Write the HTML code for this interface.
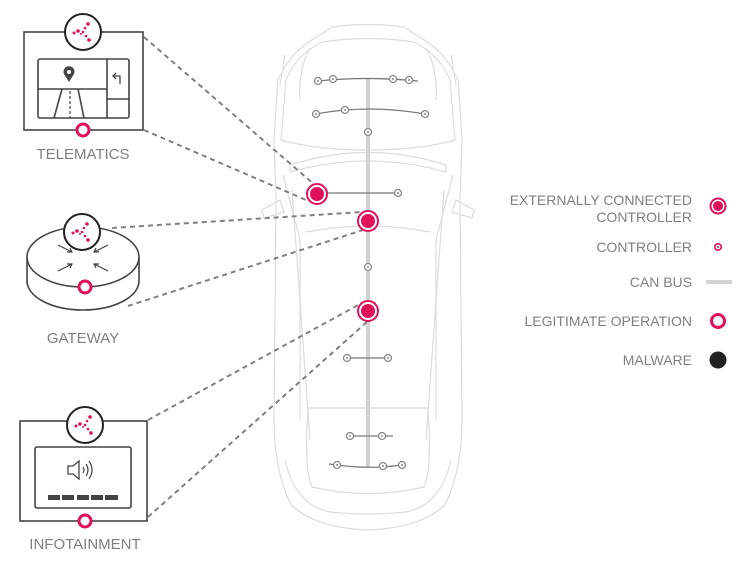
<!DOCTYPE html>
<html><head><meta charset="utf-8"><style>
html,body{margin:0;padding:0;background:#fff;}
svg{display:block;font-family:"Liberation Sans",sans-serif;}
</style></head><body>
<svg width="749" height="563" viewBox="0 0 749 563" xmlns="http://www.w3.org/2000/svg">
<g fill="none" stroke="#dcdcdc" stroke-width="1.2">
<path d="M332 27 Q368 22 404 27 L416 35 Q445 50 458 80 L462 140 L460 200 L462 420 Q462 470 445 505 Q420 528 368 530 Q316 528 291 505 Q274 470 274 420 L276 200 L274 140 L278 80 Q291 50 320 35 Z"/>
<path d="M322 42 Q368 35 414 42 Q440 55 450 80 L455 140 Q420 150 368 150 Q316 150 281 140 L286 80 Q296 55 322 42Z"/>
<path d="M290 165 Q368 140 446 165 L446 172 Q368 150 290 172 Z"/>
<path d="M283 175 L300 240 L300 420 M453 175 L436 240 L436 420"/>
<path d="M292 190 L310 440 M444 190 L426 440"/>
<path d="M306 232 Q368 220 430 232"/>
<path d="M308 408 L428 408 Q432 470 424 487 Q368 500 312 487 Q304 470 308 408 Z"/>
<path d="M285 460 Q295 505 330 512 Q368 516 406 512 Q441 505 451 460"/>
<path d="M262 210 L280 200 L284 212 L264 218 Z M474 210 L456 200 L452 212 L472 218 Z"/>
<path d="M280 85 L285 55 M456 85 L451 55"/>
<path d="M300 100 Q298 70 310 48 M436 100 Q438 70 426 48"/>
</g>
<line x1="368" y1="78" x2="368" y2="468" stroke="#d2d2d2" stroke-width="4"/>
<g fill="none" stroke="#777" stroke-width="1.3">
<path d="M318 81 Q368 76 418 81"/>
<path d="M316 114 Q368 104 425 114"/>
<path d="M320 193 L398 193"/>
<path d="M347 358 L388 358"/>
<path d="M350 436 L393 436"/>
<path d="M329 464 Q368 470 402 465"/>
</g>
<g fill="#fff" stroke="#888" stroke-width="1.3">
<circle cx="318" cy="81" r="3.5"/><circle cx="333" cy="79" r="3.5"/><circle cx="393" cy="79" r="3.5"/><circle cx="409" cy="80" r="3.5"/>
<circle cx="316" cy="114" r="3.5"/><circle cx="345" cy="110" r="3.5"/><circle cx="425" cy="114" r="3.5"/>
<circle cx="368" cy="132" r="3.5"/><circle cx="398" cy="193" r="3.5"/><circle cx="368" cy="267" r="3.5"/>
<circle cx="347" cy="358" r="3.5"/><circle cx="388" cy="358" r="3.5"/>
<circle cx="350" cy="436" r="3.5"/><circle cx="382" cy="436" r="3.5"/>
<circle cx="337" cy="465" r="3.5"/><circle cx="383" cy="466" r="3.5"/><circle cx="402" cy="465" r="3.5"/>
</g>
<g fill="#888"><circle cx="318" cy="81" r="1"/><circle cx="333" cy="79" r="1"/><circle cx="393" cy="79" r="1"/><circle cx="409" cy="80" r="1"/><circle cx="316" cy="114" r="1"/><circle cx="345" cy="110" r="1"/><circle cx="425" cy="114" r="1"/><circle cx="368" cy="132" r="1"/><circle cx="398" cy="193" r="1"/><circle cx="368" cy="267" r="1"/><circle cx="347" cy="358" r="1"/><circle cx="388" cy="358" r="1"/><circle cx="350" cy="436" r="1"/><circle cx="382" cy="436" r="1"/><circle cx="337" cy="465" r="1"/><circle cx="383" cy="466" r="1"/><circle cx="402" cy="465" r="1"/></g>
<g stroke="#808080" stroke-width="2" stroke-dasharray="5,4" fill="none">
<line x1="144" y1="37" x2="316" y2="186"/>
<line x1="144" y1="130" x2="306" y2="200"/>
<line x1="112" y1="228" x2="362" y2="212"/>
<line x1="128" y1="306" x2="366" y2="229"/>
<line x1="148" y1="420" x2="360" y2="304"/>
<line x1="148" y1="517" x2="368" y2="321"/>
</g>
<g fill="#e0105a" stroke="#e0105a">
<circle cx="317" cy="194" r="10" fill="#fff" stroke-width="2"/><circle cx="317" cy="194" r="7" stroke="none"/>
<circle cx="368" cy="221" r="10" fill="#fff" stroke-width="2"/><circle cx="368" cy="221" r="7" stroke="none"/>
<circle cx="368" cy="311" r="10" fill="#fff" stroke-width="2"/><circle cx="368" cy="311" r="7" stroke="none"/>
</g>
<g fill="none" stroke="#444" stroke-width="1.6">
<rect x="24" y="32" width="119" height="98"/>
<rect x="38" y="59" width="91" height="59" rx="2"/>
<line x1="38" y1="89" x2="107" y2="89"/><line x1="107" y1="59" x2="107" y2="118"/><line x1="107" y1="99" x2="129" y2="99"/>
<line x1="62" y1="89" x2="54" y2="118"/><line x1="78" y1="89" x2="84" y2="118"/>
<line x1="70" y1="91" x2="70" y2="118" stroke-dasharray="3,2" stroke-width="1.2"/>
<path d="M120 84 L120 76 L113 76 M116 73 L113 76 L116 79" stroke-width="1.3"/>
</g>
<path d="M69 82 L64 74 A5.5 5.5 0 1 1 74 74 Z" fill="#444"/><circle cx="69" cy="72" r="2" fill="#fff"/>
<g fill="none" stroke="#444" stroke-width="1.6">
<path d="M27 257 L27 281 A56 29 0 0 0 139 281 L139 257"/>
<ellipse cx="83" cy="257" rx="56" ry="30" fill="#fff"/>
<path d="M58 245 L72 252 M67 252 L72 252 L70 248" stroke-width="1.2"/>
<path d="M108 245 L94 252 M99 252 L94 252 L96 248" stroke-width="1.2"/>
<path d="M58 271 L72 264 M67 264 L72 264 L70 268" stroke-width="1.2"/>
<path d="M108 271 L94 264 M99 264 L94 264 L96 268" stroke-width="1.2"/>
</g>
<g fill="none" stroke="#444" stroke-width="1.6">
<rect x="20" y="421" width="127" height="100"/>
<rect x="35" y="447" width="96" height="61" rx="2"/>
<path d="M68 466 L73 466 L79 461 L79 479 L73 474 L68 474 Z" stroke-width="1.3"/>
<path d="M83 467 Q85 470 83 473 M86 464 Q90 470 86 476 M89 461 Q95 470 89 479" stroke-width="1.2"/>
</g>
<g fill="#444"><rect x="48" y="495" width="12" height="5"/><rect x="62" y="495" width="12" height="5"/><rect x="77" y="495" width="12" height="5"/><rect x="91" y="495" width="12" height="5"/><rect x="105" y="495" width="13" height="5"/></g>
<g id="ic">
<circle cx="83" cy="32" r="18" fill="#fff" stroke="#222" stroke-width="2"/>
<g fill="#e0105a"><circle cx="88" cy="24" r="1.8"/><circle cx="85" cy="28" r="1.3"/><circle cx="83" cy="32" r="1.3"/><circle cx="78" cy="31" r="1.8"/><circle cx="74" cy="33" r="1.5"/><circle cx="86" cy="36" r="1.3"/><circle cx="89" cy="40" r="1.8"/><circle cx="81" cy="34" r="1"/></g>
</g>
<use href="#ic" transform="translate(-1,200)"/>
<use href="#ic" transform="translate(2,393)"/>
<g fill="#fff" stroke="#e0105a" stroke-width="3">
<circle cx="83" cy="130" r="6"/><circle cx="85" cy="287" r="6"/><circle cx="85" cy="521" r="6"/>
</g>
<g fill="#808080" font-size="15" text-anchor="middle">
<text x="83" y="159">TELEMATICS</text>
<text x="83" y="343">GATEWAY</text>
<text x="85" y="549">INFOTAINMENT</text>
</g>
<g fill="#808080" font-size="14" text-anchor="end">
<text x="692" y="205">EXTERNALLY CONNECTED</text>
<text x="692" y="222">CONTROLLER</text>
<text x="692" y="252">CONTROLLER</text>
<text x="692" y="287">CAN BUS</text>
<text x="692" y="326">LEGITIMATE OPERATION</text>
<text x="692" y="365">MALWARE</text>
</g>
<circle cx="718" cy="206" r="7.5" fill="#fff" stroke="#e0105a" stroke-width="2"/><circle cx="718" cy="206" r="5" fill="#e0105a"/>
<circle cx="718" cy="247" r="3.2" fill="#fff" stroke="#e0105a" stroke-width="1.6"/><circle cx="718" cy="247" r="1" fill="#e0105a"/>
<rect x="706" y="280" width="26" height="4" fill="#d2d2d2"/>
<circle cx="718" cy="321" r="6.5" fill="#fff" stroke="#e0105a" stroke-width="3"/>
<circle cx="718" cy="360" r="8.5" fill="#222"/>
</svg>
</body></html>
